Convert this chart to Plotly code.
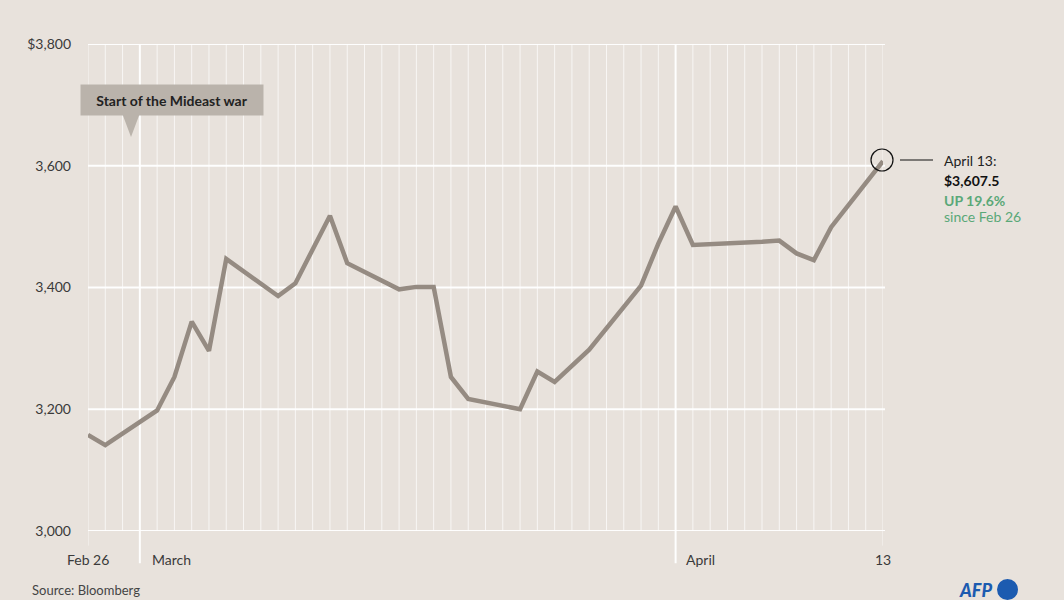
import plotly.graph_objects as go
import pandas as pd

dates = ["2026-02-26", "2026-02-27", "2026-03-02", "2026-03-03", "2026-03-04", "2026-03-05",
         "2026-03-06", "2026-03-09", "2026-03-10", "2026-03-11", "2026-03-12", "2026-03-13",
         "2026-03-16", "2026-03-17", "2026-03-18", "2026-03-19", "2026-03-20", "2026-03-23",
         "2026-03-24", "2026-03-25", "2026-03-26", "2026-03-27", "2026-03-30", "2026-03-31",
         "2026-04-01", "2026-04-02", "2026-04-06", "2026-04-07", "2026-04-08", "2026-04-09",
         "2026-04-10", "2026-04-13"]
prices = [3158, 3141, 3198, 3253, 3344, 3296,
          3447, 3386, 3407, 3462, 3518, 3440,
          3397, 3401, 3401, 3253, 3217, 3200,
          3262, 3245, 3271, 3298, 3403, 3472,
          3533, 3470, 3475, 3477, 3456, 3445,
          3499, 3607.5]
y_ticks = [3000, 3200, 3400, 3600, 3800]
y_labels = ["3,000", "3,200", "3,400", "3,600", "$3,800"]

BG = "#e8e2dc"
LINE = "#958b82"
TXT = "#3a3a3a"
FONT = "Lato"

x0, x1 = pd.Timestamp("2026-02-26"), pd.Timestamp("2026-04-13")
all_days = pd.date_range(x0, x1, freq="D")

# plot area in px
L, R, T, B = 88, 883, 44, 531
W, H = R - L, B - T
def px(x):
    return (x - L) / W
def py(y):
    return (B - y) / H

fig = go.Figure()
fig.add_trace(go.Scatter(x=pd.to_datetime(dates), y=prices, mode="lines",
                         line=dict(color=LINE, width=4.5), hoverinfo="skip"))

shapes = []
for d in all_days:
    ext = 0
    w = 1
    col = "rgba(255,255,255,0.7)"
    if d.day == 1:
        ext, w, col = -0.066, 2, "rgba(255,255,255,0.95)"
    elif d == x0 or d == x1:
        ext = -0.03
    shapes.append(dict(type="line", xref="x", yref="paper", x0=d, x1=d, y0=ext, y1=1,
                       line=dict(color=col, width=w), layer="below"))
for v in y_ticks:
    shapes.append(dict(type="line", xref="paper", yref="y", x0=0, x1=(885 - L) / W, y0=v, y1=v,
                       line=dict(color="rgba(255,255,255,0.95)", width=2), layer="below"))
shapes.append(dict(type="path", xref="paper", yref="paper",
                   path=f"M {px(122)} {py(113)} L {px(140)} {py(113)} L {px(131)} {py(137)} Z",
                   fillcolor="#bab3ab", line=dict(width=0)))
shapes.append(dict(type="circle", xref="paper", yref="paper",
                   x0=px(871), x1=px(893), y0=py(149), y1=py(171),
                   line=dict(color="#111", width=1.2)))
shapes.append(dict(type="line", xref="paper", yref="paper",
                   x0=px(900), x1=px(933), y0=py(160), y1=py(160),
                   line=dict(color="#111", width=1.2)))
shapes.append(dict(type="circle", xref="paper", yref="paper",
                   x0=px(997), x1=px(1018), y0=py(579), y1=py(600),
                   fillcolor="#1c5bb0", line=dict(width=0)))

annotations = []
annotations.append(dict(text="<b>Start of the Mideast war</b>", xref="paper", yref="paper",
                        x=px(80), y=py(84), xanchor="left", yanchor="top", showarrow=False,
                        bgcolor="#bab3ab", width=174, height=22, borderpad=4, align="center",
                        font=dict(family=FONT, size=14, color="#222")))
def xl(text, x, anchor, dx=0):
    annotations.append(dict(text=text, xref="x", yref="paper", x=x, y=py(559),
                            xanchor=anchor, yanchor="middle", xshift=dx, showarrow=False,
                            font=dict(family=FONT, size=14, color=TXT)))
xl("Feb 26", x0, "center")
xl("March", pd.Timestamp("2026-03-01"), "left", 10)
xl("April", pd.Timestamp("2026-04-01"), "left", 8)
xl("13", x1, "center")

def lab(text, y, color, size=14):
    annotations.append(dict(text=text, xref="paper", yref="paper", x=px(942), y=py(y),
                            xanchor="left", yanchor="middle", showarrow=False,
                            font=dict(family=FONT, size=size, color=color)))
lab("April 13:", 160, "#222")
lab("<b>$3,607.5</b>", 180, "#111")
lab("<b>UP 19.6%</b>", 200, "#5aa878")
lab("since Feb 26", 216, "#5aa878")

annotations.append(dict(text="Source: Bloomberg", xref="paper", yref="paper", x=px(30), y=py(590),
                        xanchor="left", yanchor="middle", showarrow=False,
                        font=dict(family=FONT, size=13, color="#444")))
annotations.append(dict(text="AFP", xref="paper", yref="paper", x=px(994), y=py(590),
                        xanchor="right", yanchor="middle", showarrow=False,
                        font=dict(family=FONT, size=18, color="#1c5bb0", weight=900, style="italic")))

fig.update_layout(
    width=1064, height=600,
    margin=dict(l=L, r=1064 - R, t=T, b=600 - B),
    paper_bgcolor=BG, plot_bgcolor=BG,
    showlegend=False,
    shapes=shapes, annotations=annotations,
    xaxis=dict(range=[x0, x1], showgrid=False, zeroline=False, showticklabels=False,
               showline=False, ticks=""),
    yaxis=dict(range=[3000, 3800], tickvals=y_ticks, ticktext=y_labels, showgrid=False,
               zeroline=False, showline=False, ticks="", ticklabelstandoff=16,
               tickfont=dict(family=FONT, size=14, color=TXT)),
)
fig.write_html("out.html", config={"displayModeBar": False},
               post_script="document.body.style.margin='0';document.body.style.background='#e8e2dc';")
